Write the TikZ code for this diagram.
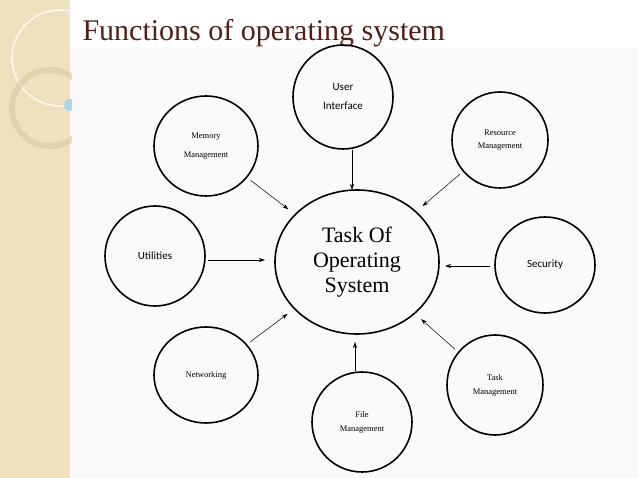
\documentclass[tikz,border=0pt]{standalone}
\usepackage{fontspec}
\setmainfont{Liberation Serif}
\newfontfamily\calib{Carlito}
\usetikzlibrary{shapes.geometric,arrows.meta}
\begin{document}
\begin{tikzpicture}[x=1pt,y=-1pt,
  bub/.style={ellipse,draw,line width=1.6pt,inner sep=0pt,align=center},
  con/.style={-{Stealth[length=6pt,width=4pt]},line width=0.5pt,shorten >=8pt,shorten <=4pt}]
\useasboundingbox (0,0) rectangle (638,478);
\fill[color={rgb,255:red,240;green,225;blue,190}] (0,0) rectangle (70,478);
\draw[white,line width=1.5pt,opacity=0.8] (60,58) circle (48);
\draw[color={rgb,255:red,220;green,205;blue,170},line width=6pt,opacity=0.7] (50,108) circle (38);
\fill[color={rgb,255:red,170;green,215;blue,240}] (70,105) circle (6);
\fill[color={rgb,255:red,250;green,250;blue,250}] (72,48) rectangle (638,478);
\node[anchor=west,text={rgb,255:red,85;green,30;blue,20},font=\fontsize{30}{32}\selectfont] (title) at (79,33) {Functions of operating system};
\node[bub,minimum width=164,minimum height=144,font=\fontsize{22}{25}\selectfont] (c) at (357,262) {Task Of\\Operating\\System};
\node[bub,minimum width=100,minimum height=104,font=\calib\fontsize{11}{19}\selectfont] (ui) at (343,97) {User\\Interface};
\node[bub,minimum width=104,minimum height=100,font=\fontsize{8.5}{19}\selectfont] (mm) at (206,146) {Memory\\Management};
\node[bub,minimum width=96,minimum height=96,font=\fontsize{8.5}{13}\selectfont] (rm) at (500,140) {Resource\\Management};
\node[bub,minimum width=100,minimum height=100,font=\calib\fontsize{11}{13}\selectfont] (ut) at (155,256) {Utilities};
\node[bub,minimum width=100,minimum height=96,font=\calib\fontsize{11}{13}\selectfont] (se) at (545,265) {Security};
\node[bub,minimum width=104,minimum height=96,font=\fontsize{8.5}{13}\selectfont] (nw) at (206,375) {Networking};
\node[bub,minimum width=100,minimum height=100,font=\fontsize{8.5}{14}\selectfont] (fm) at (362,422) {File\\Management};
\node[bub,minimum width=96,minimum height=100,font=\fontsize{8.5}{14}\selectfont] (tm) at (495,385) {Task\\Management};
\coordinate (uiE) at (352,190);
\coordinate (utE) at (275,260);
\coordinate (seE) at (439,266);
\coordinate (fmE) at (355,334);
\draw[con,shorten >=0pt,shorten <=0pt] (352,150) -- (uiE);
\draw[con] (mm) -- (c);
\draw[con] (rm) -- (c);
\draw[con,shorten >=10pt,shorten <=2pt] (ut.east |- utE) -- (utE);
\draw[con,shorten >=6pt,shorten <=4pt] (se.west |- seE) -- (seE);
\draw[con] (nw) -- (c);
\draw[con,shorten <=0pt,shorten >=8pt] (fmE |- fm.north) -- (fmE);
\draw[con] (tm) -- (c);
\end{tikzpicture}
\end{document}
